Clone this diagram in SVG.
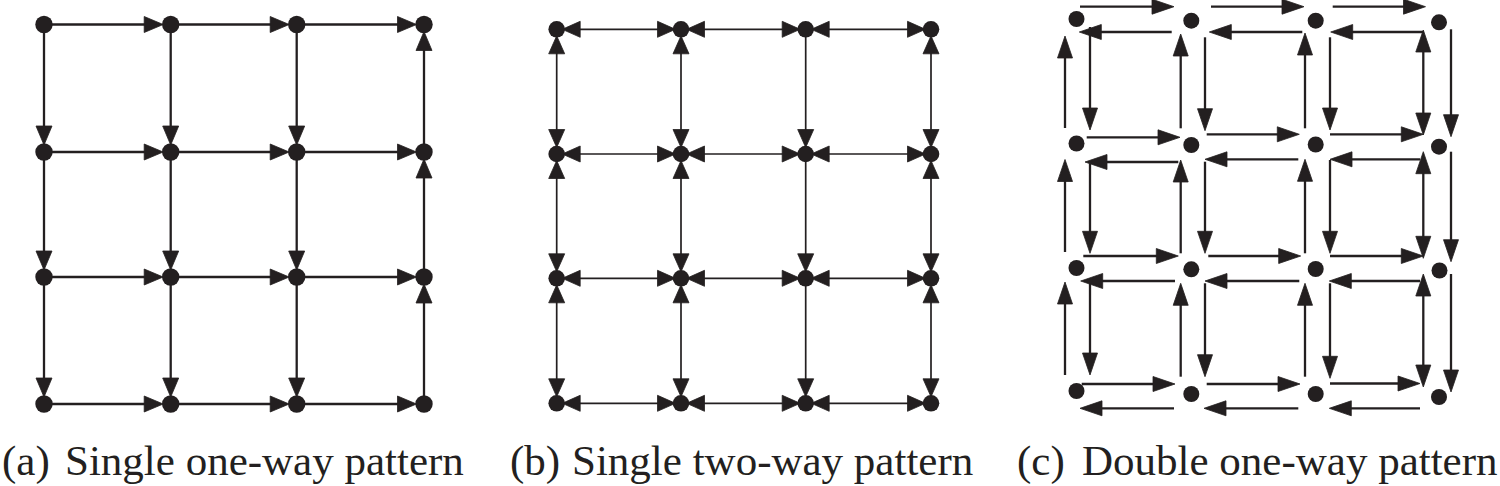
<svg xmlns="http://www.w3.org/2000/svg" width="1500" height="486" viewBox="0 0 1500 486">
<style>
.bg{fill:#ffffff}
.node{fill:#231f20}
.ea{stroke:#231f20;stroke-width:2.3;fill:none;marker-end:url(#ha)}
.eb{stroke:#231f20;stroke-width:1.7;fill:none;marker-end:url(#hb)}
.ebd{stroke:#231f20;stroke-width:1.7;fill:none;marker-start:url(#hb);marker-end:url(#hb)}
.ec{stroke:#231f20;stroke-width:2.3;fill:none;marker-end:url(#hc)}
.ecd{stroke:#231f20;stroke-width:2.3;fill:none;marker-start:url(#hc);marker-end:url(#hc)}
.head{fill:#231f20;stroke:#231f20;stroke-width:0.8;stroke-linejoin:miter}
.cap{font-family:"Liberation Serif","Times New Roman",serif;font-size:43px;fill:#231f20}
</style>
<defs>
<marker id="ha" markerUnits="userSpaceOnUse" viewBox="0 0 19 16" markerWidth="19" markerHeight="16" refX="8" refY="8" orient="auto-start-reverse" overflow="visible"><path class="head" d="M0,0 L19,8 L0,16 Z"/></marker>
<marker id="hb" markerUnits="userSpaceOnUse" viewBox="0 0 18 16" markerWidth="18" markerHeight="16" refX="7" refY="8" orient="auto-start-reverse" overflow="visible"><path class="head" d="M0,0 L18,8 L0,16 Z"/></marker>
<marker id="hc" markerUnits="userSpaceOnUse" viewBox="0 0 22 15" markerWidth="22" markerHeight="15" refX="8" refY="7.5" orient="auto-start-reverse" overflow="visible"><path class="head" d="M0,0 L22,7.5 L0,15 Z"/></marker>
</defs>
<rect class="bg" x="0" y="0" width="1500" height="486"/>

<g id="connectors">
<g id="connectors-a">
<line class="ea" x1="44" y1="24.5" x2="152.2" y2="24.5"/>
<line class="ea" x1="170.7" y1="24.5" x2="278.2" y2="24.5"/>
<line class="ea" x1="296.7" y1="24.5" x2="405.5" y2="24.5"/>
<line class="ea" x1="44" y1="152" x2="152.2" y2="152"/>
<line class="ea" x1="170.7" y1="152" x2="278.2" y2="152"/>
<line class="ea" x1="296.7" y1="152" x2="405.5" y2="152"/>
<line class="ea" x1="44" y1="277" x2="152.2" y2="277"/>
<line class="ea" x1="170.7" y1="277" x2="278.2" y2="277"/>
<line class="ea" x1="296.7" y1="277" x2="405.5" y2="277"/>
<line class="ea" x1="44" y1="404" x2="152.2" y2="404"/>
<line class="ea" x1="170.7" y1="404" x2="278.2" y2="404"/>
<line class="ea" x1="296.7" y1="404" x2="405.5" y2="404"/>
<line class="ea" x1="44" y1="24.5" x2="44" y2="134"/>
<line class="ea" x1="44" y1="152" x2="44" y2="259"/>
<line class="ea" x1="44" y1="277" x2="44" y2="386"/>
<line class="ea" x1="170.7" y1="24.5" x2="170.7" y2="134"/>
<line class="ea" x1="170.7" y1="152" x2="170.7" y2="259"/>
<line class="ea" x1="170.7" y1="277" x2="170.7" y2="386"/>
<line class="ea" x1="296.7" y1="24.5" x2="296.7" y2="134"/>
<line class="ea" x1="296.7" y1="152" x2="296.7" y2="259"/>
<line class="ea" x1="296.7" y1="277" x2="296.7" y2="386"/>
<line class="ea" x1="424" y1="152" x2="424" y2="42.5"/>
<line class="ea" x1="424" y1="277" x2="424" y2="170"/>
<line class="ea" x1="424" y1="404" x2="424" y2="295"/>
</g>
<g id="connectors-b">
<line class="ebd" x1="573.2" y1="29.3" x2="664.5" y2="29.3"/>
<line class="ebd" x1="697.5" y1="29.3" x2="789.2" y2="29.3"/>
<line class="ebd" x1="822.2" y1="29.3" x2="914.5" y2="29.3"/>
<line class="ebd" x1="573.2" y1="154" x2="664.5" y2="154"/>
<line class="ebd" x1="697.5" y1="154" x2="789.2" y2="154"/>
<line class="ebd" x1="822.2" y1="154" x2="914.5" y2="154"/>
<line class="ebd" x1="573.2" y1="278.3" x2="664.5" y2="278.3"/>
<line class="ebd" x1="697.5" y1="278.3" x2="789.2" y2="278.3"/>
<line class="ebd" x1="822.2" y1="278.3" x2="914.5" y2="278.3"/>
<line class="ebd" x1="573.2" y1="403.3" x2="664.5" y2="403.3"/>
<line class="ebd" x1="697.5" y1="403.3" x2="789.2" y2="403.3"/>
<line class="ebd" x1="822.2" y1="403.3" x2="914.5" y2="403.3"/>
<line class="ebd" x1="556.7" y1="46.8" x2="556.7" y2="136.5"/>
<line class="ebd" x1="556.7" y1="171.5" x2="556.7" y2="260.8"/>
<line class="ebd" x1="556.7" y1="295.8" x2="556.7" y2="385.8"/>
<line class="ebd" x1="681" y1="46.8" x2="681" y2="136.5"/>
<line class="ebd" x1="681" y1="171.5" x2="681" y2="260.8"/>
<line class="ebd" x1="681" y1="295.8" x2="681" y2="385.8"/>
<line class="eb" x1="805.7" y1="29.3" x2="805.7" y2="136.5"/>
<line class="eb" x1="805.7" y1="154" x2="805.7" y2="260.8"/>
<line class="eb" x1="805.7" y1="278.3" x2="805.7" y2="385.8"/>
<line class="ebd" x1="931" y1="46.8" x2="931" y2="136.5"/>
<line class="ebd" x1="931" y1="171.5" x2="931" y2="260.8"/>
<line class="ebd" x1="931" y1="295.8" x2="931" y2="385.8"/>
</g>
<g id="connectors-c">
<line class="ec" x1="1080" y1="6.7" x2="1160" y2="6.7"/>
<line class="ec" x1="1211" y1="6.7" x2="1290" y2="6.7"/>
<line class="ec" x1="1332.7" y1="6.7" x2="1411.5" y2="6.7"/>
<line class="ec" x1="1086.7" y1="137.3" x2="1166" y2="137.3"/>
<line class="ec" x1="1206.7" y1="134.3" x2="1285.3" y2="134.3"/>
<line class="ec" x1="1330" y1="134.3" x2="1409.3" y2="134.3"/>
<line class="ec" x1="1083.3" y1="256" x2="1164.3" y2="256"/>
<line class="ec" x1="1208.3" y1="256" x2="1286.7" y2="256"/>
<line class="ec" x1="1330" y1="256" x2="1409.3" y2="256"/>
<line class="ec" x1="1081.7" y1="384" x2="1161" y2="384"/>
<line class="ec" x1="1206.7" y1="384" x2="1286" y2="384"/>
<line class="ec" x1="1330" y1="383.5" x2="1406" y2="383.5"/>
<line class="ec" x1="1171.7" y1="32" x2="1093.3" y2="32"/>
<line class="ec" x1="1302.3" y1="32" x2="1223.3" y2="32"/>
<line class="ec" x1="1423.3" y1="32" x2="1344.7" y2="32"/>
<line class="ec" x1="1178.3" y1="162" x2="1099" y2="162"/>
<line class="ec" x1="1298.3" y1="159.3" x2="1219" y2="159.3"/>
<line class="ec" x1="1420" y1="159.3" x2="1344" y2="159.3"/>
<line class="ec" x1="1175" y1="281" x2="1094.7" y2="281"/>
<line class="ec" x1="1299.3" y1="281" x2="1219" y2="281"/>
<line class="ec" x1="1420" y1="281" x2="1343.3" y2="281"/>
<line class="ec" x1="1174" y1="408.3" x2="1094" y2="408.3"/>
<line class="ec" x1="1298.3" y1="408.3" x2="1218" y2="408.3"/>
<line class="ec" x1="1420" y1="408.3" x2="1343.3" y2="408.3"/>
<line class="ec" x1="1065" y1="128" x2="1065" y2="50"/>
<line class="ec" x1="1065" y1="252" x2="1065" y2="173.5"/>
<line class="ec" x1="1065" y1="375" x2="1065" y2="296"/>
<line class="ec" x1="1180.7" y1="128.3" x2="1180.7" y2="48"/>
<line class="ec" x1="1180.7" y1="253.3" x2="1180.7" y2="174"/>
<line class="ec" x1="1180.7" y1="376.7" x2="1180.7" y2="297.3"/>
<line class="ec" x1="1305" y1="128.3" x2="1305" y2="47"/>
<line class="ec" x1="1305" y1="253.3" x2="1305" y2="173.3"/>
<line class="ec" x1="1305" y1="376.7" x2="1305" y2="297.3"/>
<line class="ec" x1="1090" y1="27" x2="1090" y2="116"/>
<line class="ec" x1="1090" y1="163.3" x2="1090" y2="239.3"/>
<line class="ec" x1="1090" y1="283.3" x2="1090" y2="361"/>
<line class="ec" x1="1205" y1="37.3" x2="1205" y2="116.7"/>
<line class="ec" x1="1205" y1="161.7" x2="1205" y2="239.3"/>
<line class="ec" x1="1205" y1="283.3" x2="1205" y2="362.7"/>
<line class="ec" x1="1330" y1="37.3" x2="1330" y2="116"/>
<line class="ec" x1="1330" y1="160" x2="1330" y2="239.3"/>
<line class="ec" x1="1330" y1="283.3" x2="1330" y2="364.3"/>
<line class="ecd" x1="1423.3" y1="44" x2="1423.3" y2="121"/>
<line class="ecd" x1="1423.3" y1="165.7" x2="1423.3" y2="244.3"/>
<line class="ecd" x1="1423.3" y1="288" x2="1423.3" y2="373"/>
<line class="ec" x1="1451" y1="29.3" x2="1451" y2="122.7"/>
<line class="ec" x1="1451" y1="151.7" x2="1451" y2="247.7"/>
<line class="ec" x1="1451" y1="274" x2="1451" y2="378"/>
</g>
</g>

<g id="nodes-a">
<g id="a11"><circle class="node" cx="44" cy="24.5" r="8.7"/></g>
<g id="a12"><circle class="node" cx="170.7" cy="24.5" r="8.7"/></g>
<g id="a13"><circle class="node" cx="296.7" cy="24.5" r="8.7"/></g>
<g id="a14"><circle class="node" cx="424" cy="24.5" r="8.7"/></g>
<g id="a21"><circle class="node" cx="44" cy="152" r="8.7"/></g>
<g id="a22"><circle class="node" cx="170.7" cy="152" r="8.7"/></g>
<g id="a23"><circle class="node" cx="296.7" cy="152" r="8.7"/></g>
<g id="a24"><circle class="node" cx="424" cy="152" r="8.7"/></g>
<g id="a31"><circle class="node" cx="44" cy="277" r="8.7"/></g>
<g id="a32"><circle class="node" cx="170.7" cy="277" r="8.7"/></g>
<g id="a33"><circle class="node" cx="296.7" cy="277" r="8.7"/></g>
<g id="a34"><circle class="node" cx="424" cy="277" r="8.7"/></g>
<g id="a41"><circle class="node" cx="44" cy="404" r="8.7"/></g>
<g id="a42"><circle class="node" cx="170.7" cy="404" r="8.7"/></g>
<g id="a43"><circle class="node" cx="296.7" cy="404" r="8.7"/></g>
<g id="a44"><circle class="node" cx="424" cy="404" r="8.7"/></g>
</g>
<g id="nodes-b">
<g id="b11"><circle class="node" cx="556.7" cy="29.3" r="8.3"/></g>
<g id="b12"><circle class="node" cx="681" cy="29.3" r="8.3"/></g>
<g id="b13"><circle class="node" cx="805.7" cy="29.3" r="8.3"/></g>
<g id="b14"><circle class="node" cx="931" cy="29.3" r="8.3"/></g>
<g id="b21"><circle class="node" cx="556.7" cy="154" r="8.3"/></g>
<g id="b22"><circle class="node" cx="681" cy="154" r="8.3"/></g>
<g id="b23"><circle class="node" cx="805.7" cy="154" r="8.3"/></g>
<g id="b24"><circle class="node" cx="931" cy="154" r="8.3"/></g>
<g id="b31"><circle class="node" cx="556.7" cy="278.3" r="8.3"/></g>
<g id="b32"><circle class="node" cx="681" cy="278.3" r="8.3"/></g>
<g id="b33"><circle class="node" cx="805.7" cy="278.3" r="8.3"/></g>
<g id="b34"><circle class="node" cx="931" cy="278.3" r="8.3"/></g>
<g id="b41"><circle class="node" cx="556.7" cy="403.3" r="8.3"/></g>
<g id="b42"><circle class="node" cx="681" cy="403.3" r="8.3"/></g>
<g id="b43"><circle class="node" cx="805.7" cy="403.3" r="8.3"/></g>
<g id="b44"><circle class="node" cx="931" cy="403.3" r="8.3"/></g>
</g>
<g id="nodes-c">
<g id="c11"><circle class="node" cx="1076.5" cy="19" r="8"/></g>
<g id="c12"><circle class="node" cx="1191.3" cy="20.7" r="8"/></g>
<g id="c13"><circle class="node" cx="1315.7" cy="20.7" r="8"/></g>
<g id="c14"><circle class="node" cx="1439" cy="22.3" r="8"/></g>
<g id="c21"><circle class="node" cx="1076.5" cy="143.5" r="8"/></g>
<g id="c22"><circle class="node" cx="1191.3" cy="145" r="8"/></g>
<g id="c23"><circle class="node" cx="1315.7" cy="144.5" r="8"/></g>
<g id="c24"><circle class="node" cx="1439" cy="146.7" r="8"/></g>
<g id="c31"><circle class="node" cx="1076.5" cy="268" r="8"/></g>
<g id="c32"><circle class="node" cx="1191.3" cy="269.3" r="8"/></g>
<g id="c33"><circle class="node" cx="1315.7" cy="269" r="8"/></g>
<g id="c34"><circle class="node" cx="1439.5" cy="270.5" r="8"/></g>
<g id="c41"><circle class="node" cx="1076.5" cy="391" r="8"/></g>
<g id="c42"><circle class="node" cx="1191.3" cy="394" r="8"/></g>
<g id="c43"><circle class="node" cx="1315.7" cy="394" r="8"/></g>
<g id="c44"><circle class="node" cx="1439" cy="397" r="8"/></g>
</g>

<g id="captions">
<text class="cap" y="475"><tspan x="2">(a)</tspan><tspan x="65">Single one-way pattern</tspan></text>
<text class="cap" y="475"><tspan x="510">(b)</tspan><tspan x="572">Single two-way pattern</tspan></text>
<text class="cap" y="475"><tspan x="1017">(c)</tspan><tspan x="1082">Double one-way pattern</tspan></text>
</g>
</svg>
